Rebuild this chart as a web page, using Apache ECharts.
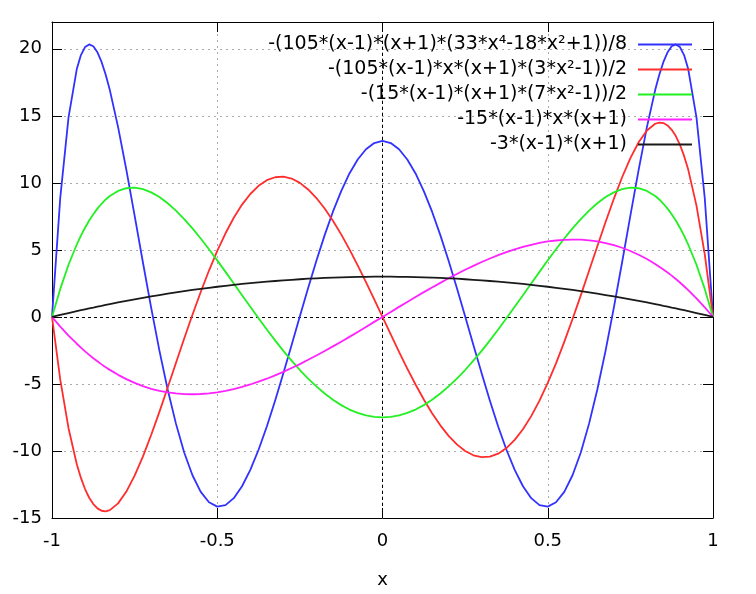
<!DOCTYPE html>
<html>
<head>
<meta charset="utf-8">
<script src="https://cdn.jsdelivr.net/npm/echarts@6/dist/echarts.min.js"></script>
<style>
html,body{margin:0;padding:0;background:#fff;}
#chart{width:756px;height:594px;}
</style>
</head>
<body>
<div id="chart"></div>
<script>
// x sample positions (denser near the outer peaks)
var xValues = [-1,-0.975,-0.95,-0.925,-0.9125,-0.9,-0.8875,-0.875,-0.8625,-0.85,-0.8375,-0.825,-0.8,-0.775,-0.75,-0.725,-0.7,-0.675,-0.65,-0.625,-0.6,-0.575,-0.55,-0.525,-0.5,-0.475,-0.45,-0.425,-0.4,-0.375,-0.35,-0.325,-0.3,-0.275,-0.25,-0.225,-0.2,-0.175,-0.15,-0.125,-0.1,-0.075,-0.05,-0.025,
0,0.025,0.05,0.075,0.1,0.125,0.15,0.175,0.2,0.225,0.25,0.275,0.3,0.325,0.35,0.375,0.4,0.425,0.45,0.475,0.5,0.525,0.55,0.575,0.6,0.625,0.65,0.675,0.7,0.725,0.75,0.775,0.8,0.825,0.8375,0.85,0.8625,0.875,0.8875,0.9,0.9125,0.925,0.95,0.975,1];

var seriesNames = [
  '-(105*(x-1)*(x+1)*(33*x\u2074-18*x\u00b2+1))/8',
  '-(105*(x-1)*x*(x+1)*(3*x\u00b2-1))/2',
  '-(15*(x-1)*(x+1)*(7*x\u00b2-1))/2',
  '-15*(x-1)*x*(x+1)',
  '-3*(x-1)*(x+1)'
];

var blueValues = [0,8.89,14.89,18.49,19.53,20.13,20.33,20.19,19.74,19.02,18.07,16.92,14.16,10.97,7.56,4.08,0.69,-2.51,-5.41,-7.96,-10.11,-11.81,-13.05,-13.83,-14.15,-14.04,-13.52,-12.63,-11.41,-9.91,-8.17,-6.26,-4.21,-2.09,0.05,2.16,4.19,6.10,7.85,9.39,10.70,11.74,12.51,12.97,
13.13,12.97,12.51,11.74,10.70,9.39,7.85,6.10,4.19,2.16,0.05,-2.09,-4.21,-6.26,-8.17,-9.91,-11.41,-12.63,-13.52,-14.04,-14.15,-13.83,-13.05,-11.81,-10.11,-7.96,-5.41,-2.51,0.69,4.08,7.56,10.97,14.16,16.92,18.07,19.02,19.74,20.19,20.33,20.13,19.53,18.49,14.89,8.89,0];

var redValues = [0,-4.68,-8.30,-10.99,-12.01,-12.84,-13.49,-13.96,-14.28,-14.46,-14.50,-14.41,-13.91,-13.03,-11.84,-10.42,-8.81,-7.08,-5.27,-3.44,-1.61,0.16,1.86,3.46,4.92,6.24,7.40,8.38,9.17,9.78,10.20,10.42,10.46,10.32,10.00,9.51,8.87,8.09,7.18,6.16,5.04,3.85,2.60,1.31,
0,-1.31,-2.60,-3.85,-5.04,-6.16,-7.18,-8.09,-8.87,-9.51,-10.00,-10.32,-10.46,-10.42,-10.20,-9.78,-9.17,-8.38,-7.40,-6.24,-4.92,-3.46,-1.86,-0.16,1.61,3.44,5.27,7.08,8.81,10.42,11.84,13.03,13.91,14.41,14.50,14.46,14.28,13.96,13.49,12.84,12.01,10.99,8.30,4.68,0];

var greenValues = [0,2.09,3.89,5.40,6.06,6.65,7.19,7.66,8.08,8.44,8.76,9.02,9.40,9.60,9.64,9.53,9.29,8.94,8.48,7.93,7.30,6.60,5.85,5.05,4.22,3.36,2.50,1.62,0.76,-0.10,-0.94,-1.75,-2.53,-3.26,-3.96,-4.60,-5.18,-5.71,-6.18,-6.58,-6.91,-7.16,-7.35,-7.46,
-7.5,-7.46,-7.35,-7.16,-6.91,-6.58,-6.18,-5.71,-5.18,-4.60,-3.96,-3.26,-2.53,-1.75,-0.94,-0.10,0.76,1.62,2.50,3.36,4.22,5.05,5.85,6.60,7.30,7.93,8.48,8.94,9.29,9.53,9.64,9.60,9.40,9.02,8.76,8.44,8.08,7.66,7.19,6.65,6.06,5.40,3.89,2.09,0];

var magentaValues = [0,-0.72,-1.39,-2.00,-2.29,-2.57,-2.83,-3.08,-3.31,-3.54,-3.75,-3.95,-4.32,-4.64,-4.92,-5.16,-5.36,-5.51,-5.63,-5.71,-5.76,-5.77,-5.75,-5.70,-5.63,-5.52,-5.38,-5.22,-5.04,-4.83,-4.61,-4.36,-4.10,-3.81,-3.52,-3.20,-2.88,-2.54,-2.20,-1.85,-1.49,-1.12,-0.75,-0.37,
0,0.37,0.75,1.12,1.49,1.85,2.20,2.54,2.88,3.20,3.52,3.81,4.10,4.36,4.61,4.83,5.04,5.22,5.38,5.52,5.63,5.70,5.75,5.77,5.76,5.71,5.63,5.51,5.36,5.16,4.92,4.64,4.32,3.95,3.75,3.54,3.31,3.08,2.83,2.57,2.29,2.00,1.39,0.72,0];

var blackValues = [0,0.15,0.29,0.43,0.50,0.57,0.64,0.70,0.77,0.83,0.90,0.96,1.08,1.20,1.31,1.42,1.53,1.63,1.73,1.83,1.92,2.01,2.09,2.17,2.25,2.32,2.39,2.46,2.52,2.58,2.63,2.68,2.73,2.77,2.81,2.85,2.88,2.91,2.93,2.95,2.97,2.98,2.99,3.00,
3,3.00,2.99,2.98,2.97,2.95,2.93,2.91,2.88,2.85,2.81,2.77,2.73,2.68,2.63,2.58,2.52,2.46,2.39,2.32,2.25,2.17,2.09,2.01,1.92,1.83,1.73,1.63,1.53,1.42,1.31,1.20,1.08,0.96,0.90,0.83,0.77,0.70,0.64,0.57,0.50,0.43,0.29,0.15,0];

var xTicks = [-1, -0.5, 0, 0.5, 1];
var yTicks = [-15, -10, -5, 0, 5, 10, 15, 20];

var allValues = [blueValues, redValues, greenValues, magentaValues, blackValues];
var colors = ['#3232ff', '#ff2d2d', '#22f022', '#ff22ff', '#1a1a1a'];

var FONT = 'DejaVu Sans';
var gridDash = [2, 4];

function pairs(ys) { return xValues.map(function (x, i) { return [x, ys[i]]; }); }

var series = allValues.map(function (ys, k) {
  var s = {
    name: seriesNames[k],
    type: 'line',
    data: pairs(ys),
    symbol: 'none',
    showSymbol: false,
    smooth: false,
    color: colors[k],
    itemStyle: { color: colors[k] },
    lineStyle: { color: colors[k], width: 1.8, join: 'round' },
    animation: false,
    xAxisIndex: 0,
    yAxisIndex: 0,
    z: 3
  };
  if (k === 0) {
    s.markLine = {
      silent: true,
      symbol: 'none',
      animation: false,
      label: { show: false },
      lineStyle: { color: '#000', width: 1, type: [3, 3] },
      data: [{ yAxis: 0 }, { xAxis: 0 }],
      z: 1
    };
  }
  return s;
});

var chart = echarts.init(document.getElementById('chart'), null, { renderer: 'canvas' });
chart.setOption({
  backgroundColor: '#ffffff',
  animation: false,
  grid: { left: 52, right: 43, top: 22, bottom: 76, containLabel: false, outerBoundsMode: 'none' },
  legend: {
    orient: 'vertical',
    right: 64,
    top: 35,
    padding: 0,
    align: 'right',
    icon: 'rect',
    itemWidth: 54,
    itemHeight: 2,
    itemGap: 6,
    selectedMode: false,
    textStyle: { fontFamily: FONT, fontSize: 19, color: '#000', lineHeight: 19, padding: [0, 6, 0, 0] },
    data: seriesNames
  },
  xAxis: [{
    type: 'value', min: -1, max: 1, interval: 0.5, position: 'bottom',
    name: 'x', nameLocation: 'middle', nameGap: 53,
    nameTextStyle: { fontFamily: FONT, fontSize: 18, color: '#000' },
    axisLine: { show: true, onZero: false, lineStyle: { color: '#000', width: 1 } },
    axisTick: { show: true, inside: true, length: 10, lineStyle: { color: '#000', width: 1 } },
    axisLabel: { fontFamily: FONT, fontSize: 18, color: '#000', margin: 14,
      formatter: function (v) { return xTicks.indexOf(v) >= 0 ? String(v) : ''; } },
    splitLine: { show: true, showMinLine: false, showMaxLine: false, lineStyle: { color: '#aaaaaa', width: 1, type: gridDash } }
  }, {
    type: 'value', min: -1, max: 1, interval: 0.5, position: 'top',
    axisLine: { show: true, onZero: false, lineStyle: { color: '#000', width: 1 } },
    axisTick: { show: true, inside: true, length: 10, lineStyle: { color: '#000', width: 1 } },
    axisLabel: { show: false },
    splitLine: { show: false }
  }],
  yAxis: [{
    type: 'value', min: -15, max: 22, interval: 5, position: 'left',
    axisLine: { show: true, onZero: false, lineStyle: { color: '#000', width: 1 } },
    axisTick: { show: true, inside: true, length: 10, lineStyle: { color: '#000', width: 1 } },
    axisLabel: { fontFamily: FONT, fontSize: 18, color: '#000', margin: 10, showMaxLabel: false,
      formatter: function (v) { return yTicks.indexOf(v) >= 0 ? String(v) : ''; } },
    splitLine: { show: true, showMinLine: false, showMaxLine: false, lineStyle: { color: '#aaaaaa', width: 1, type: gridDash } }
  }, {
    type: 'value', min: -15, max: 22, interval: 5, position: 'right',
    axisLine: { show: true, onZero: false, lineStyle: { color: '#000', width: 1 } },
    axisTick: { show: true, inside: true, length: 10, lineStyle: { color: '#000', width: 1 } },
    axisLabel: { show: false },
    splitLine: { show: false }
  }],
  series: series
});
</script>
</body>
</html>
